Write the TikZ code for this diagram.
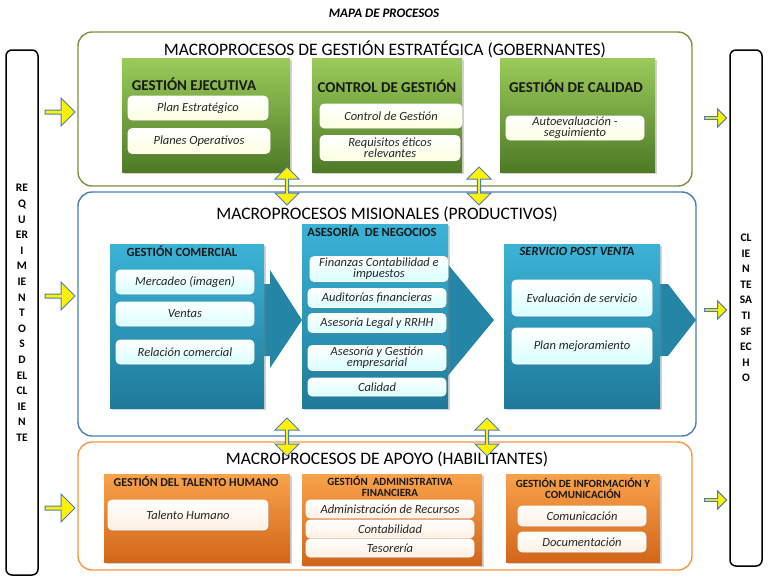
\documentclass[tikz,border=0pt]{standalone}
\usepackage{fontspec}
\setmainfont{Carlito}
\usetikzlibrary{shapes.arrows,shadows}
\definecolor{gB}{HTML}{77933C}
\definecolor{bB}{HTML}{4A7EBB}
\definecolor{oB}{HTML}{F79646}
\definecolor{gT}{HTML}{9BCB5A}
\definecolor{gD}{HTML}{4E7A26}
\definecolor{bT}{HTML}{3BB3D6}
\definecolor{bD}{HTML}{1F7A9A}
\definecolor{oT}{HTML}{F9A24B}
\definecolor{oD}{HTML}{D2661A}
\tikzset{
 x=1pt,y=-1pt,
 big/.style={draw,rounded corners=14pt,line width=1.4pt,fill=white},
 bigt/.style={font=\fontsize{17.5}{18}\selectfont,text=black},
 side/.style={draw=black,line width=1.5pt,rounded corners=6pt,fill=white},
 panel/.style={drop shadow={opacity=.35,shadow xshift=2pt,shadow yshift=-2pt},inner sep=0pt},
 gpan/.style={panel,top color=gT,bottom color=gD},
 bpan/.style={panel,top color=bT,bottom color=bD},
 opan/.style={panel,top color=oT,bottom color=oD},
 head/.style={font=\bfseries\fontsize{15}{15}\selectfont,text=black!90,align=center},
 shead/.style={font=\bfseries\fontsize{12.5}{13}\selectfont,text=black!90,align=center},
 item/.style={rounded corners=4pt,draw=white,line width=.6pt,font=\itshape\fontsize{12.5}{12}\selectfont,align=center,text=black!85,inner sep=1pt,drop shadow={opacity=.3,shadow xshift=1pt,shadow yshift=-1pt}},
 gi/.style={item,top color=white,bottom color=green!10!yellow!12},
 bi/.style={item,top color=white,bottom color=cyan!15},
 oi/.style={item,top color=white,bottom color=orange!12},
 chev/.style={fill=bD!80!bT},
 ya/.style={single arrow,draw=bB,fill=yellow,line width=1pt,minimum width=28pt,single arrow head extend=3pt,inner sep=0pt},
 yd/.style={double arrow,draw=bB,fill=yellow,line width=1pt,minimum width=24pt,double arrow head extend=3pt,inner sep=0pt,rotate=90},
 vt/.style={font=\bfseries\fontsize{11.5}{15.6}\selectfont,align=center}
}
\begin{document}
\begin{tikzpicture}
\useasboundingbox (0,0) rectangle (768,576);
\node[font=\bfseries\itshape\fontsize{13}{14}\selectfont] (title) at (384,13) {MAPA DE PROCESOS};
% side boxes
\draw[side] (6,50) rectangle (38,575);
\node[vt] (req) at (22,313) {RE\\Q\\U\\ER\\I\\M\\IE\\N\\T\\O\\S\\D\\EL\\CL\\IE\\N\\TE};
\draw[side] (730,50) rectangle (762,566);
\node[vt] (cli) at (746,308) {CL\\IE\\N\\TE\\SA\\TI\\SF\\EC\\H\\O};
% big boxes
\draw[big,draw=gB] (78,32) rectangle (692,186);
\node[bigt] (t1) at (385,49) {MACROPROCESOS DE GESTIÓN ESTRATÉGICA (GOBERNANTES)};
\draw[big,draw=bB] (78,192) rectangle (696,436);
\node[bigt] (t2) at (387,214) {MACROPROCESOS MISIONALES (PRODUCTIVOS)};
\draw[big,draw=oB] (78,442) rectangle (692,570);
\node[bigt] (t3) at (387,459) {MACROPROCESOS DE APOYO (HABILITANTES)};
% green panels
\path[gpan] (122,58) rectangle (290,172);
\node[head] (h1) at (194,84) {GESTIÓN EJECUTIVA};
\node[gi,minimum width=140pt,minimum height=24pt] (g1) at (198,108) {Plan Estratégico};
\node[gi,minimum width=142pt,minimum height=25pt] (g2) at (199,141) {Planes Operativos};
\path[gpan] (312,58) rectangle (462,172);
\node[head] (h2) at (387,86) {CONTROL DE GESTIÓN};
\node[gi,minimum width=142pt,minimum height=24pt] (g3) at (391,116) {Control de Gestión};
\node[gi,minimum width=140pt,minimum height=25pt,font=\itshape\fontsize{12.5}{11}\selectfont] (g4) at (390,148) {Requisitos éticos\\relevantes};
\path[gpan] (500,58) rectangle (655,172);
\node[head] (h3) at (576,86) {GESTIÓN DE CALIDAD};
\node[gi,minimum width=138pt,minimum height=24pt,font=\itshape\fontsize{12.5}{11}\selectfont] (g5) at (575,128) {Autoevaluación -\\seguimiento};
% blue panels
\path[chev] (262,284) -- (270,284) -- (270,270) -- (302,320) -- (270,368) -- (270,356) -- (262,356) -- cycle;
\path[bpan] (110,244) rectangle (264,408);
\node[shead] (h4) at (182,251) {GESTIÓN COMERCIAL};
\node[bi,minimum width=138pt,minimum height=24pt] (b1) at (185,282) {Mercadeo (imagen)};
\node[bi,minimum width=138pt,minimum height=24pt] (b2) at (185,314) {Ventas};
\node[bi,minimum width=138pt,minimum height=24pt] (b3) at (185,352) {Relación comercial};
\path[chev] (446,262) -- (494,320) -- (446,378) -- cycle;
\path[bpan] (302,224) rectangle (448,408);
\node[shead] (h5) at (372,231) {ASESORÍA\ \ DE NEGOCIOS};
\node[bi,minimum width=138pt,minimum height=25pt,font=\itshape\fontsize{12.5}{11}\selectfont] (b4) at (379,269) {Finanzas Contabilidad e\\impuestos};
\node[bi,minimum width=138pt,minimum height=19pt] (b5) at (377,298) {Auditorías financieras};
\node[bi,minimum width=138pt,minimum height=19pt] (b6) at (377,323) {Asesoría Legal y RRHH};
\node[bi,minimum width=138pt,minimum height=25pt,font=\itshape\fontsize{12.5}{11}\selectfont] (b7) at (377,358) {Asesoría y Gestión\\empresarial};
\node[bi,minimum width=138pt,minimum height=18pt] (b8) at (377,387) {Calidad};
\path[chev] (658,284) -- (668,284) -- (696,320) -- (668,356) -- (658,356) -- cycle;
\path[bpan] (504,244) rectangle (660,408);
\node[shead,font=\bfseries\itshape\fontsize{12.5}{13}\selectfont] (h6) at (577,251) {SERVICIO POST VENTA};
\node[bi,minimum width=140pt,minimum height=36pt] (b9) at (582,298) {Evaluación de servicio};
\node[bi,minimum width=140pt,minimum height=36pt] (b10) at (582,346) {Plan mejoramiento};
% orange panels
\path[opan] (104,474) rectangle (290,562);
\node[shead,font=\bfseries\fontsize{12}{12}\selectfont] (h7) at (196,481) {GESTIÓN DEL TALENTO HUMANO};
\node[oi,minimum width=160pt,minimum height=30pt] (o1) at (188,515) {Talento Humano};
\path[opan] (302,474) rectangle (482,565);
\node[shead,font=\bfseries\fontsize{11}{11}\selectfont] (h8) at (390,486) {GESTIÓN\ \ ADMINISTRATIVA\\FINANCIERA};
\node[oi,minimum width=168pt,minimum height=18pt] (o2) at (390,509) {Administración de Recursos};
\node[oi,minimum width=168pt,minimum height=18pt] (o3) at (390,529) {Contabilidad};
\node[oi,minimum width=168pt,minimum height=18pt] (o4) at (390,548) {Tesorería};
\path[opan] (506,474) rectangle (660,562);
\node[shead,font=\bfseries\fontsize{11}{11}\selectfont] (h9) at (583,488) {GESTIÓN DE INFORMACIÓN Y\\COMUNICACIÓN};
\node[oi,minimum width=128pt,minimum height=20pt] (o5) at (582,516) {Comunicación};
\node[oi,minimum width=128pt,minimum height=20pt] (o6) at (582,542) {Documentación};
% yellow arrows
\node[ya,minimum height=30pt] (l1) at (59,112) {};
\node[ya,minimum height=30pt] (l2) at (59,296) {};
\node[ya,minimum height=30pt] (l3) at (59,508) {};
\node[ya,minimum height=22pt,minimum width=18pt] (r1) at (715,118) {};
\node[ya,minimum height=22pt,minimum width=18pt] (r2) at (715,310) {};
\node[ya,minimum height=22pt,minimum width=18pt] (r3) at (715,500) {};
\node[yd,minimum height=38pt] (d1) at (287,186) {};
\node[yd,minimum height=38pt] (d2) at (479,186) {};
\node[yd,minimum height=38pt] (d3) at (287,437) {};
\node[yd,minimum height=38pt] (d4) at (487,437) {};
\end{tikzpicture}
\end{document}
